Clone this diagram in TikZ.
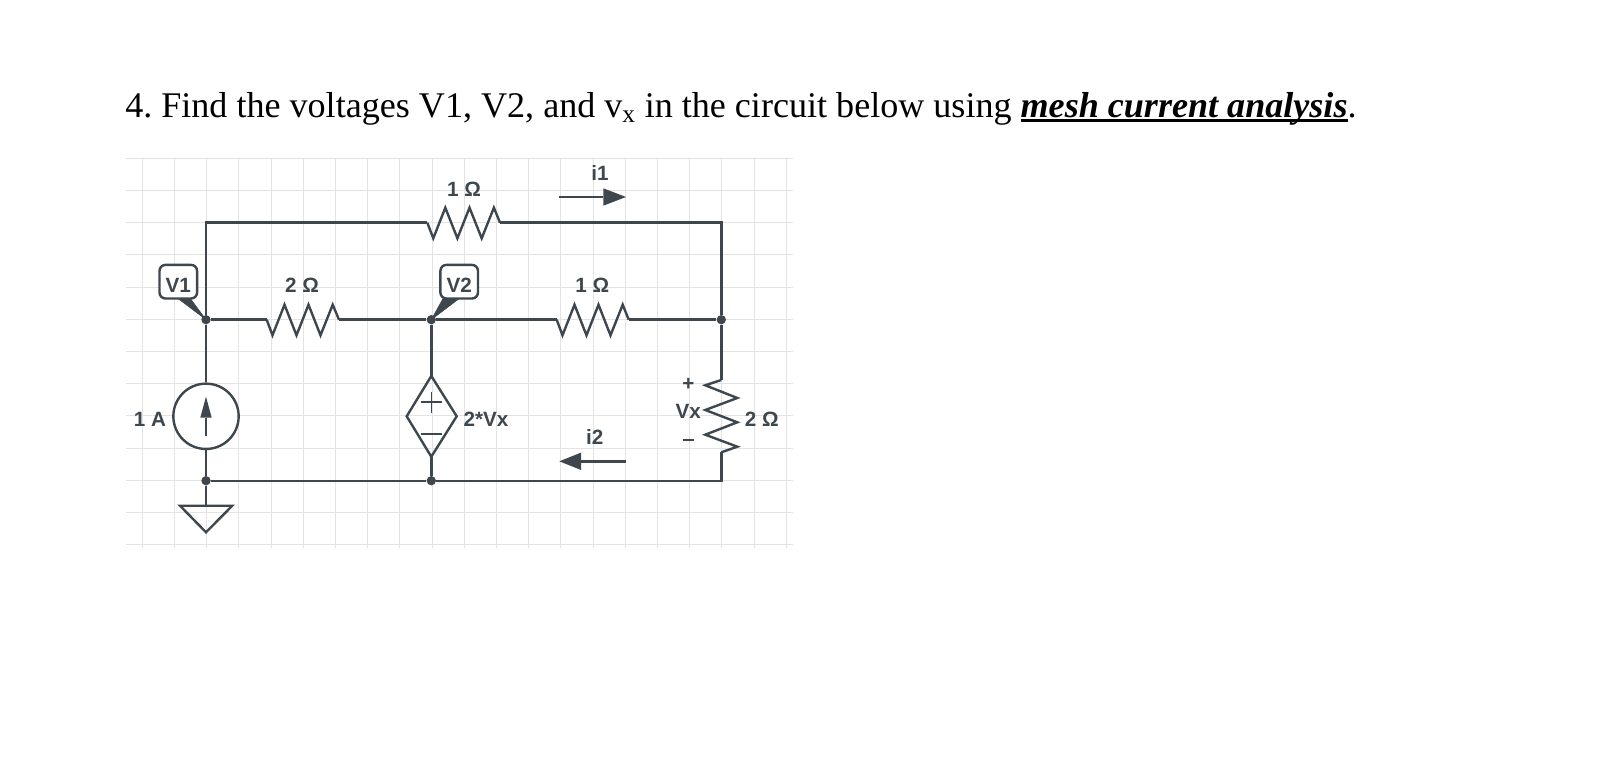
\documentclass[tikz,border=0pt]{standalone}
\usepackage{fontspec}
\setmainfont{Liberation Serif}
\newfontfamily\lab{Liberation Sans}[BoldFont=Liberation Sans Bold]
\usetikzlibrary{calc}
\definecolor{wire}{HTML}{3E474D}
\definecolor{gridc}{HTML}{E3E3E3}
\newcommand{\ulbi}[1]{\setbox0\hbox{\bfseries\itshape #1}\rlap{\raisebox{-3.1pt}{\rule{\wd0}{1.6pt}}}\box0}
\newcommand{\tagtext}[1]{\raisebox{-8.2pt}[0pt][0pt]{#1}}
\tikzset{
  x=0.75pt,y=-0.75pt,
  wirepath/.style={draw=wire,line width=1.8pt,line join=miter},
  thinpath/.style={draw=wire,line width=1.1pt},
  junction/.style={circle,fill=wire,inner sep=0pt,minimum size=7pt},
  lbl/.style={font=\lab\bfseries\fontsize{15.5}{17}\selectfont,text=wire,inner sep=0pt},
  tag/.style={draw=wire,line width=1.8pt,rounded corners=4.5pt,fill=white,minimum width=28.2pt,minimum height=25.2pt,inner sep=0pt,font=\lab\bfseries\fontsize{15.5}{17}\selectfont,text=wire},
  source/.style={circle,draw=wire,line width=1.8pt,inner sep=0pt,minimum size=49pt,fill=white},
  gridline/.style={draw=gridc,line width=0.8pt}
}
\begin{document}
\begin{tikzpicture}
\useasboundingbox (0,0) rectangle (1624,784);
\fill[white] (0,0) rectangle (1624,784);
% grid
\foreach \i in {0,...,20} {\draw[gridline] ({142.3+32.2*\i},158) -- ({142.3+32.2*\i},548);}
\foreach \j in {0,...,12} {\draw[gridline] (126,{158.3+32.2*\j}) -- (792.7,{158.3+32.2*\j});}
% title
\node[anchor=base west,inner sep=0pt,font=\fontsize{27.07}{30}\selectfont] (title) at (125,117.5) {4.\hspace{-2.3pt} Find the voltages V1, V2, and v\textsubscript{x} in the circuit below using \ulbi{mesh current analysis}.};
% junctions
\node[junction] (n1) at (206,319.7) {};
\node[junction] (n2) at (431.3,319.7) {};
\node[junction] (n3) at (721.3,319.7) {};
\node[junction] (g1) at (206,480.7) {};
\node[junction] (g2) at (431.3,480.7) {};
\coordinate (tl) at (206,222.7);
\coordinate (tr) at (721.3,222.7);
\coordinate (br) at (721.3,480.7);
% sources
\node[source] (is) at (206,416.3) {};
\coordinate (dt) at (431.3,376);
\coordinate (db) at (431.3,456.7);
\coordinate (dl) at (406.7,416.3);
\coordinate (dr) at (456.7,416.3);
\coordinate (gt) at (206,505.7);
% resistor terminals
\coordinate (r1a) at (427.3,222.7); \coordinate (r1b) at (500,222.7);
\coordinate (r2a) at (266.7,319.7); \coordinate (r2b) at (339,319.7);
\coordinate (r3a) at (556.7,319.7); \coordinate (r3b) at (628.7,319.7);
\coordinate (r4a) at (721.3,380); \coordinate (r4b) at (721.3,452.3);
% wires
\draw[wirepath] (n1) -- (tl) -- (r1a);
\draw[wirepath] (r1b) -- (tr) -- (n3);
\draw[wirepath] (n1) -- (r2a);
\draw[wirepath] (r2b) -- (n2);
\draw[wirepath] (n2) -- (r3a);
\draw[wirepath] (r3b) -- (n3);
\draw[wirepath] (n3) -- (r4a);
\draw[wirepath] (r4b) -- (br) -- (g2) -- (g1);
\draw[wirepath] (n1) -- (is);
\draw[wirepath] (is) -- (g1);
\draw[wirepath] (g1) -- (gt);
\draw[wirepath] (n2) -- (dt);
\draw[wirepath] (db) -- (g2);
% resistors
\draw[wirepath] (r1a) -- ++(6,15.6) -- ++(12,-30.6) -- ++(12.1,30.6) -- ++(12.1,-30.6) -- ++(12.2,30.6) -- ++(12.2,-30.6) -- (r1b);
\draw[wirepath] (r2a) -- ++(5.8,15.6) -- ++(12,-30.6) -- ++(12,30.6) -- ++(12,-30.6) -- ++(12,30.6) -- ++(12.2,-30.6) -- (r2b);
\draw[wirepath] (r3a) -- ++(5.8,15.6) -- ++(12,-30.6) -- ++(12,30.6) -- ++(12,-30.6) -- ++(12,30.6) -- ++(12.2,-30.6) -- (r3b);
\draw[wirepath] (r4a) -- ++(-16,5.3) -- ++(32,12.7) -- ++(-32,12) -- ++(32,12.3) -- ++(-32,12.4) -- ++(32,12) -- (r4b);
% diamond
\draw[wirepath] (dt) -- (dr) -- (db) -- (dl) -- cycle;
\draw[thinpath] (420.7,402) -- (442,402) (431.3,391.7) -- (431.3,412.7);
\draw[thinpath] (420.7,434) -- (442,434);
% current source arrow
\coordinate (ia) at (206,436); \coordinate (ib) at (206,417.7); \coordinate (ic) at (206,396.7);
\draw[thinpath] (ia) -- (ib);
\fill[wire] (ic) -- ($(ib)+(5.7,0)$) -- ($(ib)+(-5.7,0)$) -- cycle;
% ground
\draw[wirepath] (180,505.7) -- (232.3,505.7) -- (206,532.3) -- cycle;
% probes
\fill[wire,draw=wire,line width=0.4pt] (177.3,298) -- (190,298) -- (n1.center) -- cycle;
\fill[wire,draw=wire,line width=0.4pt] (n2.center) -- (443.3,298) -- (460,298) -- cycle;
\node[tag] (v1) at (178.3,281.7) {\tagtext{V1}};
\node[tag] (v2) at (459.2,281.7) {\tagtext{V2}};
% mesh arrows
\coordinate (a1s) at (559.3,197); \coordinate (a1b) at (603.3,197); \coordinate (a1t) at (626,197);
\coordinate (a2s) at (625.7,461.3); \coordinate (a2b) at (581,461.3); \coordinate (a2t) at (559.3,461.3);
\draw[wirepath] (a1s) -- (a1b);
\fill[wire] (a1t) -- ($(a1b)+(0,-8.7)$) -- ($(a1b)+(0,8.7)$) -- cycle;
\draw[wirepath] (a2s) -- (a2b);
\fill[wire] (a2t) -- ($(a2b)+(0,-8.7)$) -- ($(a2b)+(0,8.7)$) -- cycle;
% labels
\node[lbl] (l1) at (464,189) {1 Ω};
\node[lbl] (l2) at (302,285.7) {2 Ω};
\node[lbl] (l3) at (592.3,285.7) {1 Ω};
\node[lbl] (l4) at (761.7,419) {2 Ω};
\node[lbl] (l5) at (150,419) {1 A};
\node[lbl] (l6) at (486,419) {2*Vx};
\node[lbl] (l7) at (600,172.7) {i1};
\node[lbl] (l8) at (594.7,436.7) {i2};
\node[lbl] (l9) at (688.3,384.7) {+};
\node[lbl] (l10) at (688.3,411) {Vx};
\node[lbl] (l11) at (688.3,440) {\rule{8.5pt}{1.5pt}};
\end{tikzpicture}
\end{document}
